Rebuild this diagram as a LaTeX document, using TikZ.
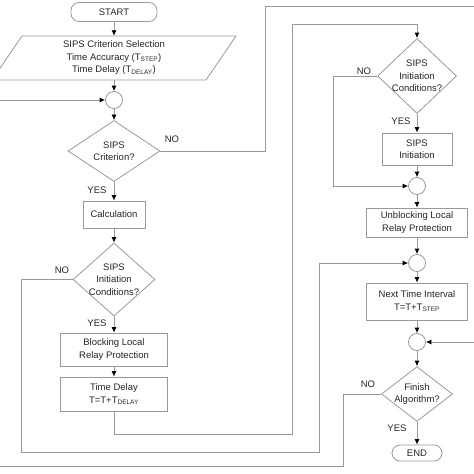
\documentclass[tikz,border=0pt]{standalone}
\usepackage{fontspec}
\setmainfont{Liberation Sans}
\usepackage{tikz}
\usetikzlibrary{shapes,arrows.meta,positioning}
\newcommand{\lowtxt}[1]{\textsubscript{\fontsize{6.5}{7}\selectfont #1}}

\begin{document}
\begin{tikzpicture}[x=1pt, y=-1pt,
    wire/.style={draw=gray!80, line width=0.8pt},
    arr/.style={wire, -{Latex[length=5.5pt,width=5pt,color=black]}},
    txt/.style={font=\fontsize{9.5}{12.5}\selectfont, text=black!85, align=center},
    box/.style={txt, wire, fill=white, rectangle, inner sep=1pt},
    term/.style={box, rounded corners=8pt},
    decide/.style={txt, wire, fill=white, diamond, inner sep=-3pt},
    junc/.style={wire, circle, minimum size=17pt, inner sep=0pt},
    lbl/.style={txt}]
    \useasboundingbox (0,0) rectangle (474,474);

    % left column
    \node[term, minimum width=86pt, minimum height=19pt] (start) at (114,12) {START};
    \draw[wire, fill=white] (-8,80) -- (22,36) -- (236,36) -- (206,80) -- cycle; % input parallelogram
    \node[txt, minimum width=214pt, minimum height=44pt] (setup) at (114,58) {SIPS Criterion Selection\\Time Accuracy (T\lowtxt{STEP})\\Time Delay (T\lowtxt{DELAY})};
    \node[junc] (j1) at (114,100) {};
    \node[decide, minimum width=92pt, minimum height=61pt] (crit) at (114,151) {SIPS\\Criterion?};
    \node[box, minimum width=62pt, minimum height=27pt] (calc) at (114,214.5) {Calculation};
    \node[decide, minimum width=82pt, minimum height=73pt] (initA) at (114,279.5) {SIPS\\Initiation\\Conditions?};
    \node[box, minimum width=107pt, minimum height=33pt] (block) at (114,349.5) {Blocking Local\\Relay Protection};
    \node[box, minimum width=107pt, minimum height=34pt] (delay) at (114,394) {Time Delay\\T=T+T\lowtxt{DELAY}};

    % right column
    \node[decide, minimum width=79pt, minimum height=75pt] (initB) at (417,76) {SIPS\\Initiation\\Conditions?};
    \node[box, minimum width=70pt, minimum height=32pt] (sipsinit) at (417,149) {SIPS\\Initiation};
    \node[junc] (j2) at (417,186) {};
    \node[box, minimum width=101pt, minimum height=29pt] (unblock) at (417,222.5) {Unblocking Local\\Relay Protection};
    \node[junc] (j3) at (417,263) {};
    \node[box, minimum width=101pt, minimum height=37pt] (next) at (417,301.5) {Next Time Interval\\T=T+T\lowtxt{STEP}};
    \node[junc] (j4) at (417,342) {};
    \node[decide, minimum width=71pt, minimum height=51pt] (finish) at (417,394) {Finish\\Algorithm?};
    \node[term, minimum width=50pt, minimum height=16pt] (stop) at (417,453) {END};

    % free ends at the border
    \coordinate (inL) at (0,100);
    \coordinate (inR) at (474,342);
    \coordinate (outT) at (474,6);
    \coordinate (outB) at (0,466);

    % labels
    \node[lbl] (noA) at (172,139) {NO};
    \node[lbl] (yesA) at (97,190) {YES};
    \node[lbl] (noB) at (62,270) {NO};
    \node[lbl] (yesB) at (97,323) {YES};
    \node[lbl] (noC) at (364,71) {NO};
    \node[lbl] (yesC) at (401,121) {YES};
    \node[lbl] (noD) at (368,384) {NO};
    \node[lbl] (yesD) at (397,428) {YES};

    % main flow
    \draw[arr] (start) -- (setup);
    \draw[arr] (setup) -- (j1);
    \draw[arr] (inL) -- (j1);
    \draw[arr] (j1) -- (crit);
    \draw[arr] (crit) -- (calc);
    \draw[arr] (calc) -- (initA);
    \draw[arr] (initA) -- (block);
    \draw[arr] (block) -- (delay);
    \draw[arr] (initB) -- (sipsinit);
    \draw[arr] (sipsinit) -- (j2);
    \draw[arr] (j2) -- (unblock);
    \draw[arr] (unblock) -- (j3);
    \draw[arr] (j3) -- (next);
    \draw[arr] (next) -- (j4);
    \draw[arr] (inR) -- (j4);
    \draw[arr] (j4) -- (finish);
    \draw[arr] (finish) -- (stop);

    % loops
    \draw[wire] (crit.east) -| (265,6) -- (outT);
    \draw[arr] (initA.west) -| (21,452) -| (319,263) -- (j3.west);
    \draw[arr] (delay.south) |- (292,434) -- (292,24) -| (initB.north);
    \draw[arr] (initB.west) -| (333,186) -- (j2.west);
    \draw[wire] (finish.west) -| (343,466) -- (outB);
\end{tikzpicture}
\end{document}
